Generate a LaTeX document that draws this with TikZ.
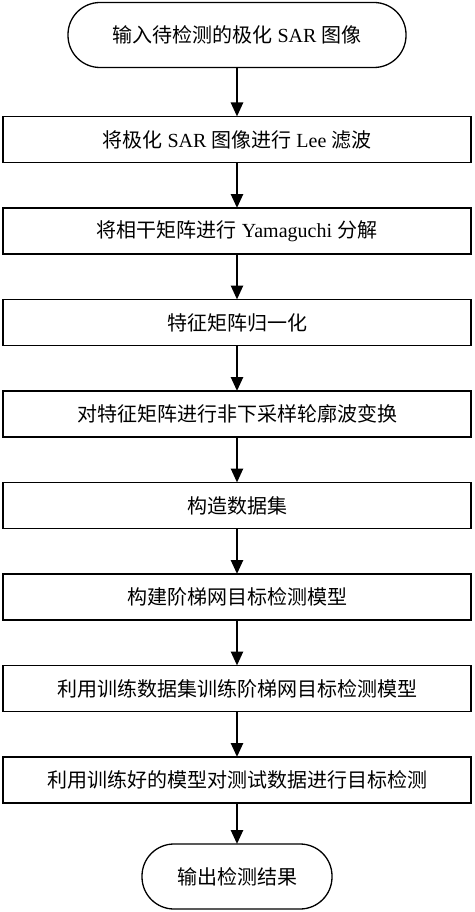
\documentclass[tikz,border=0pt]{standalone}
\usepackage{fontspec}
\setmainfont{Liberation Serif}
\newfontfamily\cjk{Noto Sans CJK SC}
\usetikzlibrary{arrows.meta,positioning}
\newcommand{\zh}[1]{{\cjk #1}}

\begin{document}
\begin{tikzpicture}[
  x=1pt, y=1pt,
  node distance=45.5pt,
  stepbox/.style={draw=black, line width=1.3pt, outer sep=0pt, align=center, minimum height=46pt, minimum width=468pt, inner sep=0pt, font=\fontsize{20}{24}\selectfont},
  term/.style={draw=black, line width=1.3pt, outer sep=0pt, rounded corners=32pt, align=center, minimum height=65pt, inner sep=0pt, font=\fontsize{20}{24}\selectfont},
  arrow/.style={-{Triangle[length=14pt,width=12pt]}, line width=2.5pt}
]
\useasboundingbox (0,0) rectangle (474,-912);
\node[term, minimum width=338pt] (input) at (237,-35) {\zh{输入待检测的极化} SAR \zh{图像}};
\node[stepbox, below=49pt of input] (lee) {\zh{将极化} SAR \zh{图像进行} Lee \zh{滤波}};
\node[stepbox, below=of lee] (yama) {\zh{将相干矩阵进行} Yamaguchi \zh{分解}};
\node[stepbox, below=of yama] (norm) {\zh{特征矩阵归一化}};
\node[stepbox, below=of norm] (nsct) {\zh{对特征矩阵进行非下采样轮廓波变换}};
\node[stepbox, below=of nsct] (dataset) {\zh{构造数据集}};
\node[stepbox, below=of dataset] (model) {\zh{构建阶梯网目标检测模型}};
\node[stepbox, below=of model] (train) {\zh{利用训练数据集训练阶梯网目标检测模型}};
\node[stepbox, below=of train] (test) {\zh{利用训练好的模型对测试数据进行目标检测}};
\node[term, minimum width=190pt, below=41pt of test] (output) {\zh{输出检测结果}};
\draw[arrow] (input) -- (lee);
\draw[arrow] (lee) -- (yama);
\draw[arrow] (yama) -- (norm);
\draw[arrow] (norm) -- (nsct);
\draw[arrow] (nsct) -- (dataset);
\draw[arrow] (dataset) -- (model);
\draw[arrow] (model) -- (train);
\draw[arrow] (train) -- (test);
\draw[arrow] (test) -- (output);
\end{tikzpicture}
\end{document}
